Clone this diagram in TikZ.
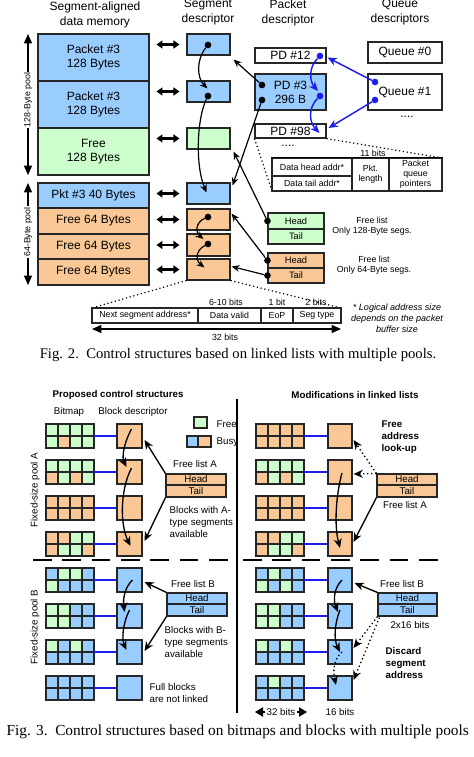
\documentclass[tikz,border=0pt]{standalone}
\usepackage{fontspec}
\setmainfont{Liberation Sans}
\newfontfamily\capfont{Liberation Serif}
\usetikzlibrary{arrows.meta,fit,calc}
\definecolor{cB}{RGB}{153,204,255}
\definecolor{cG}{RGB}{204,255,204}
\definecolor{cO}{RGB}{250,200,150}
\definecolor{lnk}{RGB}{30,30,235}
\newcommand\fA{\fontsize{9}{10.5}\selectfont}
\newcommand\fH{\fontsize{9}{11.25}\selectfont}
\newcommand\fB{\fontsize{6.6}{7.6}\selectfont}
\newcommand\fC{\fontsize{7.3}{9}\selectfont}
\newcommand\fD{\fontsize{7}{8}\selectfont}
\newcommand\bmap[4]{%
  \foreach \c [count=\i from 0] in {#4} {
    \pgfmathtruncatemacro\col{mod(\i,4)}
    \pgfmathtruncatemacro\row{int(\i/4)}
    \filldraw[fill=\c, draw=black!85, line width=0.8pt] ({#2+12*\col},{#3+12*\row}) rectangle ++(12,12);
  }
  \node[fit={(#2,#3) (#2+48,#3+24)}, inner sep=0pt] (#1) {};
}
% name, style, x1, y1, x2, y2, text
\newcommand\rbox[7]{%
  \node[box,#2,minimum width={(#5-#3)*0.75pt},minimum height={(#6-#4)*0.75pt}] (#1) at ({(#3+#5)/2},{(#4+#6)/2}) {#7};}
\begin{document}
\begin{tikzpicture}[x=0.75pt,y=-0.75pt,
  box/.style={draw=black!85, line width=0.8pt, inner sep=0pt, align=center},
  arr/.style={-{Stealth[length=6pt,width=5pt]}, line width=0.9pt},
  barr/.style={-{Stealth[length=7pt,width=6pt]}, line width=1.1pt, draw=lnk},
  dbl/.style={{Triangle[length=4.5pt,width=6pt]}-{Triangle[length=4.5pt,width=6pt]}, line width=1.6pt},
  pool/.style={{Triangle[length=7pt,width=6pt]}-{Triangle[length=7pt,width=6pt]}, line width=1pt},
  dot/.style={circle, fill=black, inner sep=0pt, minimum size=5pt},
  bdot/.style={circle, fill=lnk, inner sep=0pt, minimum size=5pt},
  link/.style={draw=lnk, line width=1pt},
  dotl/.style={dotted, line width=0.9pt},
  barw/.style={-{Stealth[length=7pt,width=6pt]}, line width=1pt},
  sepl/.style={dash pattern=on 14pt off 8pt, line width=1.2pt}
]
\useasboundingbox (0,0) rectangle (474,757);

%================ Fig. 2 =================
\node[align=center,font=\fH] (hdm) at (95,14.5) {Segment-aligned\\data memory};
\node[align=center,font=\fH] (hsd) at (208,12.5) {Segment\\descriptor};
\node[align=center,font=\fH] (hpd) at (288,12.5) {Packet\\descriptor};
\node[align=center,font=\fH] (hqd) at (400,12.5) {Queue\\descriptors};

% data memory
\rbox{dm1}{fill=cB,font=\fA}{38}{34}{149}{81}{Packet \#3\\128 Bytes}
\rbox{dm2}{fill=cB,font=\fA}{38}{81}{149}{128}{Packet \#3\\128 Bytes}
\rbox{dm3}{fill=cG,font=\fA}{38}{128}{149}{175}{Free\\128 Bytes}
\rbox{dm4}{fill=cB,font=\fA}{38}{183}{149}{208}{Pkt \#3 40 Bytes}
\rbox{dm5}{fill=cO,font=\fA}{38}{208}{149}{234}{Free 64 Bytes}
\rbox{dm6}{fill=cO,font=\fA}{38}{234}{149}{259}{Free 64 Bytes}
\rbox{dm7}{fill=cO,font=\fA}{38}{259}{149}{285}{Free 64 Bytes}

% pool arrows
\coordinate (p1t) at (28,34); \coordinate (p1b) at (28,175);
\draw[pool] (p1t) -- (p1b);
\node[rotate=90,fill=white,inner sep=1pt,font=\fB] (p1l) at (28,100) {128-Byte pool};
\coordinate (p2t) at (28,183); \coordinate (p2b) at (28,285);
\draw[pool] (p2t) -- (p2b);
\node[rotate=90,fill=white,inner sep=1pt,font=\fB] (p2l) at (28,232) {64-Byte pool};

% segment descriptors
\rbox{sd1}{fill=cB}{187}{34}{230}{55}{}
\rbox{sd2}{fill=cB}{187}{81}{230}{102}{}
\rbox{sd3}{fill=cG}{187}{128}{230}{149}{}
\rbox{sd4}{fill=cB}{187}{183}{230}{204}{}
\rbox{sd5}{fill=cO}{187}{209}{230}{230}{}
\rbox{sd6}{fill=cO}{187}{234}{230}{256}{}
\rbox{sd7}{fill=cO}{187}{259}{230}{280}{}
\foreach \s in {1,...,7} \draw[dbl] ($(sd\s.west)+(-30,0)$) -- ($(sd\s.west)+(-7,0)$);

% segment chains
\node[dot] (sdd1) at (208,45) {};
\node[dot] (sdd2) at (208,96) {};
\node[dot] (sdd5) at (208,217) {};
\node[dot] (sdd6) at (208,244) {};
\draw[arr] (sdd1) .. controls (196,60) and (197,78) .. ($(sd2.center)+(-1,-3)$);
\draw[arr] (sdd2) .. controls (197,118) and (195,165) .. ($(sd4.center)+(-2,-1)$);
\draw[arr] (sdd5) .. controls (196,222) and (195,232) .. ($(sd6.center)+(-5,-6)$);
\draw[arr] (sdd6) .. controls (196,250) and (195,260) .. ($(sd7.center)+(-4,-2)$);

% packet descriptors
\rbox{pd12}{fill=white,font=\fA}{255}{48}{326}{63}{PD \#12}
\rbox{pd3}{fill=cB,font=\fA}{255}{74}{326}{110}{PD \#3\\296 B}
\rbox{pd98}{fill=white,font=\fA}{255}{124}{326}{138}{PD \#98}
\node[font=\fA,inner sep=0pt] (pddots) at (288,146) {....};

% queue descriptors
\rbox{q0}{fill=white,font=\fA}{368}{42}{442}{63}{Queue \#0}
\rbox{q1}{fill=white,font=\fA}{368}{74}{442}{110}{Queue \#1}
\node[font=\fA,inner sep=0pt] (qdots) at (407,117) {....};

% blue pointers
\node[bdot] (qd1) at (375,82) {};
\node[bdot] (qd2) at (375,100) {};
\node[bdot] (pb12) at (320,56) {};
\node[bdot] (pb3) at (320,96) {};
\draw[barr] (qd1) -- ($(pd12.east)+(1,2)$);
\draw[barr] (qd2) -- ($(pd98.east)+(2,-3)$);
\draw[barr] (pb12) .. controls (308,68) and (310,82) .. ($(pb3)+(-2,-5)$);
\draw[barr] (pb3) .. controls (308,108) and (309,122) .. ($(pd98.center)+(29,2)$);

% black pointers from PD#3
\node[dot] (pdd1) at (262,85) {};
\node[dot] (pdd2) at (262,100) {};
\draw[arr] (pdd1) -- ($(sd1.south east)+(3,4)$);
\draw[arr] (pdd2) -- ($(sd4.north east)+(2,3)$);

% PD format table
\draw[dotl] (pd98.south west) -- (272,191);
\draw[dotl] (pd98.south east) -- (442,158);
\rbox{pt1}{fill=white,font=\fB}{272}{158}{352}{176}{Data head addr*}
\rbox{pt2}{fill=white,font=\fB}{272}{176}{352}{191}{Data tail addr*}
\rbox{pt3}{fill=white,font=\fB}{352}{158}{389}{191}{Pkt.\\length}
\rbox{pt4}{fill=white,font=\fB}{389}{158}{442}{191}{Packet\\queue\\pointers}
\draw[line width=1.4pt] (pt1.north west) -- (pt4.north east);
\node[font=\fB] (b11) at (373,153) {11 bits};

% free lists
\rbox{f1h}{fill=cG,font=\fD}{268}{213}{324}{229}{Head}
\rbox{f1t}{fill=cG,font=\fD}{268}{229}{324}{244}{Tail}
\rbox{f2h}{fill=cO,font=\fD}{268}{253}{324}{268}{Head}
\rbox{f2t}{fill=cO,font=\fD}{268}{268}{324}{283}{Tail}
\node[dot] (f1d) at (f1h.west) {};
\node[dot] (f2d) at (f2h.west) {};
\node[dot] (f3d) at (f2t.west) {};
\draw[arr] (f1d) -- ($(sd3.south east)+(3,2)$);
\draw[arr] (f2d) -- ($(sd5.east)+(1,-6)$);
\draw[arr] (f3d) -- ($(sd7.east)+(1,-3)$);
\node[align=center,font=\fB] (f1l) at (372,226) {Free list\\Only 128-Byte segs.};
\node[align=center,font=\fB] (f2l) at (374,265) {Free list\\Only 64-Byte segs.};

% segment descriptor format
\draw[dotl] (sd7.south west) -- (92,308);
\draw[dotl] (sd7.south east) -- (341,308);
\rbox{sf1}{fill=white,font=\fB}{92}{308}{198}{323}{Next segment address*}
\rbox{sf2}{fill=white,font=\fB}{198}{308}{261}{323}{Data valid}
\rbox{sf3}{fill=white,font=\fB}{261}{308}{293}{323}{EoP}
\rbox{sf4}{fill=white,font=\fB}{293}{308}{341}{323}{Seg type}
\node[font=\fB] (l610) at (226,302) {6-10 bits};
\node[font=\fB] (l1) at (277,302) {1 bit};
\node[font=\fB] (l2) at (316,302) {2 bits};
\coordinate (w32a) at (92,329); \coordinate (w32b) at (341,329);
\draw[{Triangle[length=7pt,width=6pt]}-{Triangle[length=7pt,width=6pt]}, line width=1pt] (w32a) -- (w32b);
\node[font=\fB] (l32) at (225,337) {32 bits};
\node[align=center,font=\fontsize{6.8}{8.25}\selectfont\itshape] (note) at (397,318) {* Logical address size\\depends on the packet\\buffer size};

\node[font=\capfont\fontsize{11}{13}\selectfont] (cap2) at (238,355) {Fig. 2.\ \ Control structures based on linked lists with multiple pools.};

%================ Fig. 3 =================
\node[font=\fC\bfseries] (h3l) at (118,395) {Proposed control structures};
\node[font=\fC\bfseries] (h3r) at (355,395) {Modifications in linked lists};
\coordinate (divt) at (237,399); \coordinate (divb) at (237,713);
\draw[line width=0.9pt] (divt) -- (divb);
\node[font=\fC] (hbm) at (69,412) {Bitmap};
\node[font=\fC] (hbd) at (133,412) {Block descriptor};

% legend
\rbox{lgG}{fill=cG}{194}{417}{207}{428}{}
\rbox{lgB}{fill=cB}{187}{436}{198}{447}{}
\rbox{lgO}{fill=cO}{198}{436}{211}{447}{}
\node[font=\fC,anchor=west] (lgf) at (212,424) {Free};
\node[font=\fC,anchor=west] (lgb) at (212,442) {Busy};

% left bitmaps
\bmap{LA1}{46}{424}{cG,cG,cG,cG,cG,cO,cG,cG}
\bmap{LA2}{46}{460}{cG,cG,cG,cG,cO,cG,cO,cG}
\bmap{LA3}{46}{496}{cO,cO,cO,cO,cO,cO,cO,cO}
\bmap{LA4}{46}{532}{cO,cO,cG,cG,cO,cG,cG,cO}
\bmap{LB1}{46}{568}{cB,cG,cG,cB,cG,cB,cB,cB}
\bmap{LB2}{46}{604}{cG,cG,cB,cB,cG,cG,cB,cB}
\bmap{LB3}{46}{640}{cG,cB,cG,cB,cB,cB,cB,cB}
\bmap{LB4}{46}{676}{cB,cB,cB,cB,cB,cB,cB,cB}
% right bitmaps
\bmap{RA1}{256}{424}{cO,cO,cO,cO,cO,cO,cO,cO}
\bmap{RA2}{256}{460}{cG,cG,cG,cG,cO,cG,cO,cG}
\bmap{RA3}{256}{496}{cO,cO,cO,cO,cO,cO,cO,cO}
\bmap{RA4}{256}{532}{cO,cO,cG,cG,cO,cG,cG,cO}
\bmap{RB1}{256}{568}{cB,cG,cB,cB,cG,cB,cG,cB}
\bmap{RB2}{256}{604}{cG,cG,cB,cB,cG,cG,cB,cB}
\bmap{RB3}{256}{640}{cG,cB,cG,cB,cB,cB,cB,cB}
\bmap{RB4}{256}{676}{cB,cG,cB,cB,cB,cB,cB,cB}

% blocks
\foreach \r/\y in {1/424,2/460,3/496,4/532} {
  \rbox{LA\r b}{fill=cO}{117}{\y}{142}{\y+24}{}
  \rbox{RA\r b}{fill=cO}{328}{\y}{352}{\y+24}{}
  \draw[link] (LA\r.east) -- (LA\r b.west);
  \draw[link] (RA\r.east) -- (RA\r b.west);
}
\foreach \r/\y in {1/568,2/604,3/640,4/676} {
  \rbox{LB\r b}{fill=cB}{117}{\y}{142}{\y+24}{}
  \rbox{RB\r b}{fill=cB}{328}{\y}{352}{\y+24}{}
  \draw[link] (LB\r.east) -- (LB\r b.west);
  \draw[link] (RB\r.east) -- (RB\r b.west);
}

% separators
\coordinate (s1a) at (33,560); \coordinate (s1b) at (228,560);
\coordinate (s2a) at (243,560); \coordinate (s2b) at (438,560);
\draw[sepl] (s1a) -- (s1b);
\draw[sepl] (s2a) -- (s2b);

\node[rotate=90,font=\fC] (pA) at (35,490) {Fixed-size pool A};
\node[rotate=90,font=\fC] (pB) at (35,627) {Fixed-size pool B};

% left A free list
\rbox{LAh}{fill=cO,font=\fC}{166}{474}{226}{485}{Head}
\rbox{LAt}{fill=cO,font=\fC}{166}{485}{226}{497}{Tail}
\node[font=\fC] (LAl) at (195,464) {Free list A};
\draw[barw] (LAh.north west) -- ($(LA1b.east)+(2,4)$);
\draw[barw] (LAt.south west) -- ($(LA4b.east)+(2,-3)$);
\draw[barw] ($(LA1b.center)+(2,-7)$) .. controls (123,445) and (122,458) .. ($(LA2b.center)+(-3,-5)$);
\draw[barw] ($(LA2b.center)+(2,-4)$) .. controls (120,490) and (120,525) .. ($(LA4b.center)+(1,2)$);
\node[font=\fC,anchor=north west,align=left] (LAtxt) at (165,502) {Blocks with A-\\type segments\\available};

% left B free list
\rbox{LBh}{fill=cB,font=\fC}{167}{593}{227}{604}{Head}
\rbox{LBt}{fill=cB,font=\fC}{167}{604}{227}{616}{Tail}
\node[font=\fC] (LBl) at (193,584) {Free list B};
\draw[barw] (LBh.north west) -- ($(LB1b.east)+(2,2)$);
\draw[barw] (LBt.south west) -- ($(LB3b.east)+(2,-1)$);
\draw[barw] ($(LB1b.center)+(3,0)$) .. controls (124,588) and (123,600) .. ($(LB2b.center)+(-5,-4)$);
\draw[barw] ($(LB2b.center)+(0,-6)$) .. controls (122,625) and (122,640) .. ($(LB3b.center)+(-3,-2)$);
\node[font=\fC,anchor=north west,align=left] (LBtxt) at (160,622) {Blocks with B-\\type segments\\available};
\node[font=\fC,anchor=north west,align=left] (LFtxt) at (145,679) {Full blocks\\are not linked};

% right A
\node[font=\fC\bfseries,anchor=north west,align=left] (RAtxt) at (377,416) {Free\\address\\look-up};
\rbox{RAh}{fill=cO,font=\fC}{377}{474}{437}{485}{Head}
\rbox{RAt}{fill=cO,font=\fC}{377}{485}{437}{497}{Tail}
\node[font=\fC] (RAl) at (405,505) {Free list A};
\draw[barw,dotted] (RAh.north west) -- ($(RA1b.east)+(1,4)$);
\draw[barw,dotted] (RAh.north west) -- ($(RA2b.east)+(1,2)$);
\draw[barw] (RAt.south west) -- ($(RA4b.east)+(1,-2)$);
\draw[barw] ($(RA2b.center)+(2,1)$) .. controls (336,495) and (334,525) .. ($(RA4b.center)+(0,4)$);

% right B
\rbox{RBh}{fill=cB,font=\fC}{378}{593}{437}{604}{Head}
\rbox{RBt}{fill=cB,font=\fC}{378}{604}{437}{616}{Tail}
\node[font=\fC] (RBl) at (402,584) {Free list B};
\node[font=\fC] (RBbits) at (410,625) {2x16 bits};
\draw[barw] (RBh.north west) -- ($(RB1b.east)+(2,3)$);
\draw[barw,dotted] (RBt.south west) -- ($(RB3b.east)+(1,-4)$);
\draw[barw,dotted] ($(RBt.south west)+(2,1)$) -- ($(RB4b.east)+(1,-8)$);
\draw[barw] ($(RB1b.center)+(2,0)$) .. controls (334,588) and (333,600) .. ($(RB2b.center)+(-2,-4)$);
\draw[barw] ($(RB2b.center)+(0,-6)$) .. controls (334,625) and (334,640) .. ($(RB3b.center)+(0,0)$);
\draw[barw,dotted] ($(RB3b.center)+(2,0)$) .. controls (333,660) and (333,672) .. ($(RB4b.center)+(-4,-3)$);
\node[font=\fC\bfseries,anchor=north west,align=left] (RBtxt) at (381,643) {Discard\\segment\\address};

% widths
\node[font=\fC,inner sep=1pt] (w32) at (281,712) {32 bits};
\coordinate (w32l) at (255,712); \coordinate (w32r) at (307,712);
\draw[-{Triangle[length=6pt,width=7pt]},line width=1pt] (w32.west) -- (w32l);
\draw[-{Triangle[length=6pt,width=7pt]},line width=1pt] (w32.east) -- (w32r);
\node[font=\fC] (w16) at (340,712) {16 bits};

\node[font=\capfont\fontsize{11.5}{13.5}\selectfont,anchor=west] (cap3) at (2,732) {Fig. 3.\ \ Control structures based on bitmaps and blocks with multiple pools};
\end{tikzpicture}
\end{document}
